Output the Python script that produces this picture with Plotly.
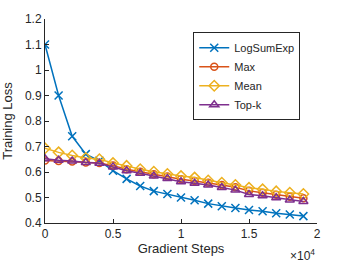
import plotly.graph_objects as go

steps = [0, 1000, 2000, 3000, 4000, 5000, 6000, 7000, 8000, 9000,
         10000, 11000, 12000, 13000, 14000, 15000, 16000, 17000, 18000, 19000]
logsumexp = [1.10, 0.90, 0.74, 0.67, 0.644, 0.605, 0.573, 0.545, 0.525, 0.514,
             0.500, 0.489, 0.476, 0.466, 0.459, 0.451, 0.446, 0.438, 0.433, 0.427]
max_vals = [0.645, 0.643, 0.641, 0.637, 0.635, 0.625, 0.611, 0.601, 0.591, 0.582,
            0.572, 0.565, 0.558, 0.549, 0.540, 0.526, 0.519, 0.511, 0.503, 0.497]
mean_vals = [0.693, 0.677, 0.665, 0.655, 0.650, 0.635, 0.624, 0.611, 0.601, 0.592,
             0.584, 0.578, 0.567, 0.558, 0.549, 0.538, 0.532, 0.524, 0.519, 0.514]
topk_vals = [0.652, 0.646, 0.643, 0.637, 0.634, 0.620, 0.605, 0.595, 0.584, 0.575,
             0.562, 0.556, 0.549, 0.539, 0.529, 0.512, 0.507, 0.499, 0.490, 0.484]

x_tickvals = [0, 5000, 10000, 15000, 20000]
x_ticktext = ["0", "0.5", "1", "1.5", "2"]
y_tickvals = [0.4, 0.5, 0.6, 0.7, 0.8, 0.9, 1.0, 1.1, 1.2]
y_ticktext = ["0.4", "0.5", "0.6", "0.7", "0.8", "0.9", "1", "1.1", "1.2"]

series = [
    ("LogSumExp", logsumexp, "#0072BD", "x-thin-open", 8),
    ("Max", max_vals, "#D95319", "circle-open", 7),
    ("Mean", mean_vals, "#EDB120", "diamond-open", 8),
    ("Top-k", topk_vals, "#7E2F8E", "triangle-up-open", 8),
]

fig = go.Figure()
for name, vals, color, sym, size in series:
    fig.add_trace(go.Scatter(
        x=steps, y=vals, name=name, mode="lines+markers",
        line=dict(color=color, width=1.5),
        marker=dict(symbol=sym, size=size, color=color,
                    line=dict(color=color, width=1.5)),
    ))

axis_color = "#262626"
fig.update_layout(
    width=349, height=262,
    margin=dict(l=45, r=32, t=19, b=39),
    paper_bgcolor="white", plot_bgcolor="white",
    font=dict(family="Liberation Sans, Arial, sans-serif", size=12, color=axis_color),
    showlegend=True,
    legend=dict(
        x=0.545, y=0.935, xanchor="left", yanchor="top",
        bgcolor="white", bordercolor=axis_color, borderwidth=1,
        font=dict(size=11), tracegroupgap=0, itemwidth=30,
    ),
    xaxis=dict(
        range=[0, 20000], tickvals=x_tickvals, ticktext=x_ticktext,
        showgrid=False, zeroline=False, showline=True, linecolor=axis_color,
        linewidth=1, ticks="inside", ticklen=4, tickcolor=axis_color,
        automargin=False, ticklabelstandoff=0,
        title=dict(text="Gradient Steps", font=dict(size=13), standoff=1),
    ),
    yaxis=dict(
        range=[0.4, 1.2], tickvals=y_tickvals, ticktext=y_ticktext,
        showgrid=False, zeroline=False, showline=True, linecolor=axis_color,
        linewidth=1, ticks="inside", ticklen=4, tickcolor=axis_color,
        automargin=False,
        title=dict(text="Training Loss", font=dict(size=13)),
    ),
    annotations=[dict(
        text="×10<sup>4</sup>", x=1.0, y=0, xref="paper", yref="paper",
        xanchor="right", yanchor="middle", yshift=-32, showarrow=False,
        font=dict(size=12, color=axis_color),
    )],
)

fig.write_html("out.html", config={"displayModeBar": False},
               post_script="document.body.style.margin='0';")
